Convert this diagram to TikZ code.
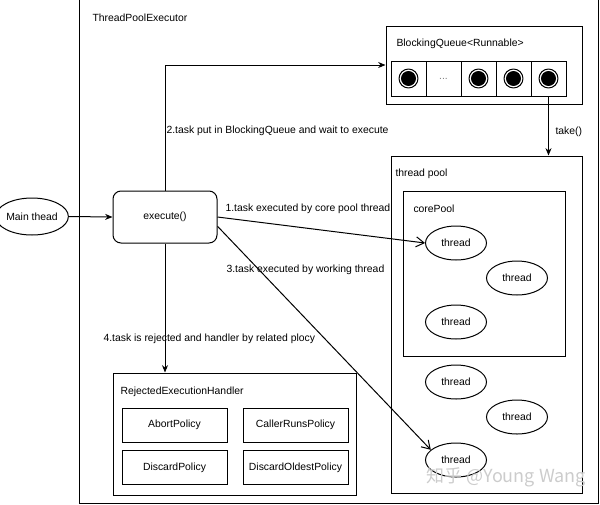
\documentclass[tikz,border=0pt]{standalone}
\usepackage{fontspec}
\setmainfont{Liberation Sans}
\newfontfamily\cjk{Noto Sans CJK SC}
\usetikzlibrary{arrows.meta,shapes.geometric}
\begin{document}
\begin{tikzpicture}[x=0.75pt,y=-0.75pt,line width=0.75pt,
  font=\fontsize{7.8}{9}\selectfont,
  frame/.style={draw,rectangle,inner sep=0pt},
  cell/.style={draw,rectangle,inner sep=0pt,minimum width=26.25pt,minimum height=26.25pt},
  thr/.style={draw,ellipse,inner sep=0pt,minimum width=45.75pt,minimum height=25.5pt},
  policy/.style={draw,rectangle,inner sep=0pt,minimum width=78.75pt,minimum height=25.5pt},
  lbl/.style={anchor=west,inner sep=0pt},
  fat/.style={-{Stealth[length=5.5pt,width=4.5pt]}},
  open/.style={-{Straight Barb[length=6pt,width=7.5pt]}}]
\useasboundingbox (0,0) rectangle (600,504);
% outer frame
\node[frame,minimum width=389.25pt,minimum height=379.5pt] (outer) at (338.5,250) {};
\node[lbl] (outerlbl) at (92,18) {ThreadPoolExecutor};
% blocking queue
\node[frame,minimum width=147pt,minimum height=58.5pt] (bq) at (484,65) {};
\node[lbl] (bqlbl) at (396,44) {BlockingQueue<Runnable>};
\node[cell] (c1) at (408.5,78.5) {};
\node[cell,text=gray] (c2) at (443.5,78.5) {...};
\node[cell] (c3) at (478.5,78.5) {};
\node[cell] (c4) at (513.5,78.5) {};
\node[cell] (c5) at (548.5,78.5) {};
\foreach \c in {c1,c3,c4,c5}{
  \filldraw[fill=white,draw=black,line width=0.75pt] (\c.center) circle[radius=7.1pt];
  \fill[black] (\c.center) circle[radius=5.6pt];
}
% thread pool
\node[frame,minimum width=143.25pt,minimum height=252.75pt] (pool) at (486.5,324.5) {};
\node[lbl] (poollbl) at (395,174) {thread pool};
\node[frame,minimum width=121.5pt,minimum height=123.75pt] (core) at (484,273.5) {};
\node[lbl] (corelbl) at (413,209) {corePool};
\node[thr] (t1) at (456,243) {thread};
\node[thr] (t2) at (517,278) {thread};
\node[thr] (t3) at (456,322) {thread};
\node[thr] (t4) at (456,382) {thread};
\node[thr] (t5) at (517,417) {thread};
\node[thr] (t6) at (456,460) {thread};
% main and execute
\node[draw,ellipse,inner sep=0pt,minimum width=46.5pt,minimum height=27.75pt] (main) at (32,216.5) {Main thead};
\node[draw,rectangle,rounded corners=6pt,inner sep=0pt,minimum width=78pt,minimum height=39pt] (exec) at (165,217) {execute()};
% rejected handler
\node[frame,minimum width=182.25pt,minimum height=91.5pt] (rej) at (234.5,434) {};
\node[lbl] (rejlbl) at (120,392) {RejectedExecutionHandler};
\node[policy] (p1) at (174.5,425) {AbortPolicy};
\node[policy] (p2) at (295.5,425) {CallerRunsPolicy};
\node[policy] (p3) at (174.5,467.5) {DiscardPolicy};
\node[policy] (p4) at (295.5,467.5) {DiscardOldestPolicy};
% connectors
\draw[fat] (main.east) -- (exec.west);
\draw[fat] (exec.north) |- (bq.west);
\node[lbl] (l2) at (166,131) {2.task put in BlockingQueue and wait to execute};
\draw[fat] (c5.south) -- (c5.south |- pool.north);
\node[lbl] (ltake) at (555,132) {take()};
\draw[open] (exec.east) -- (t1.west);
\node[lbl] (l1) at (225,209) {1.task executed by core pool thread};
\draw[open] (exec.-10) -- (t6.158);
\node[lbl] (l3) at (226,270) {3.task executed by working thread};
\draw[fat] (exec.south) -- (exec.south |- rej.north);
\node[lbl] (l4) at (103,339) {4.task is rejected and handler by related plocy};
% watermark
\node[text=gray!40,font=\cjk\fontsize{13.5}{15}\selectfont,inner sep=0pt] (wm) at (506,477) {知乎 @Young Wang};
\end{tikzpicture}
\end{document}
